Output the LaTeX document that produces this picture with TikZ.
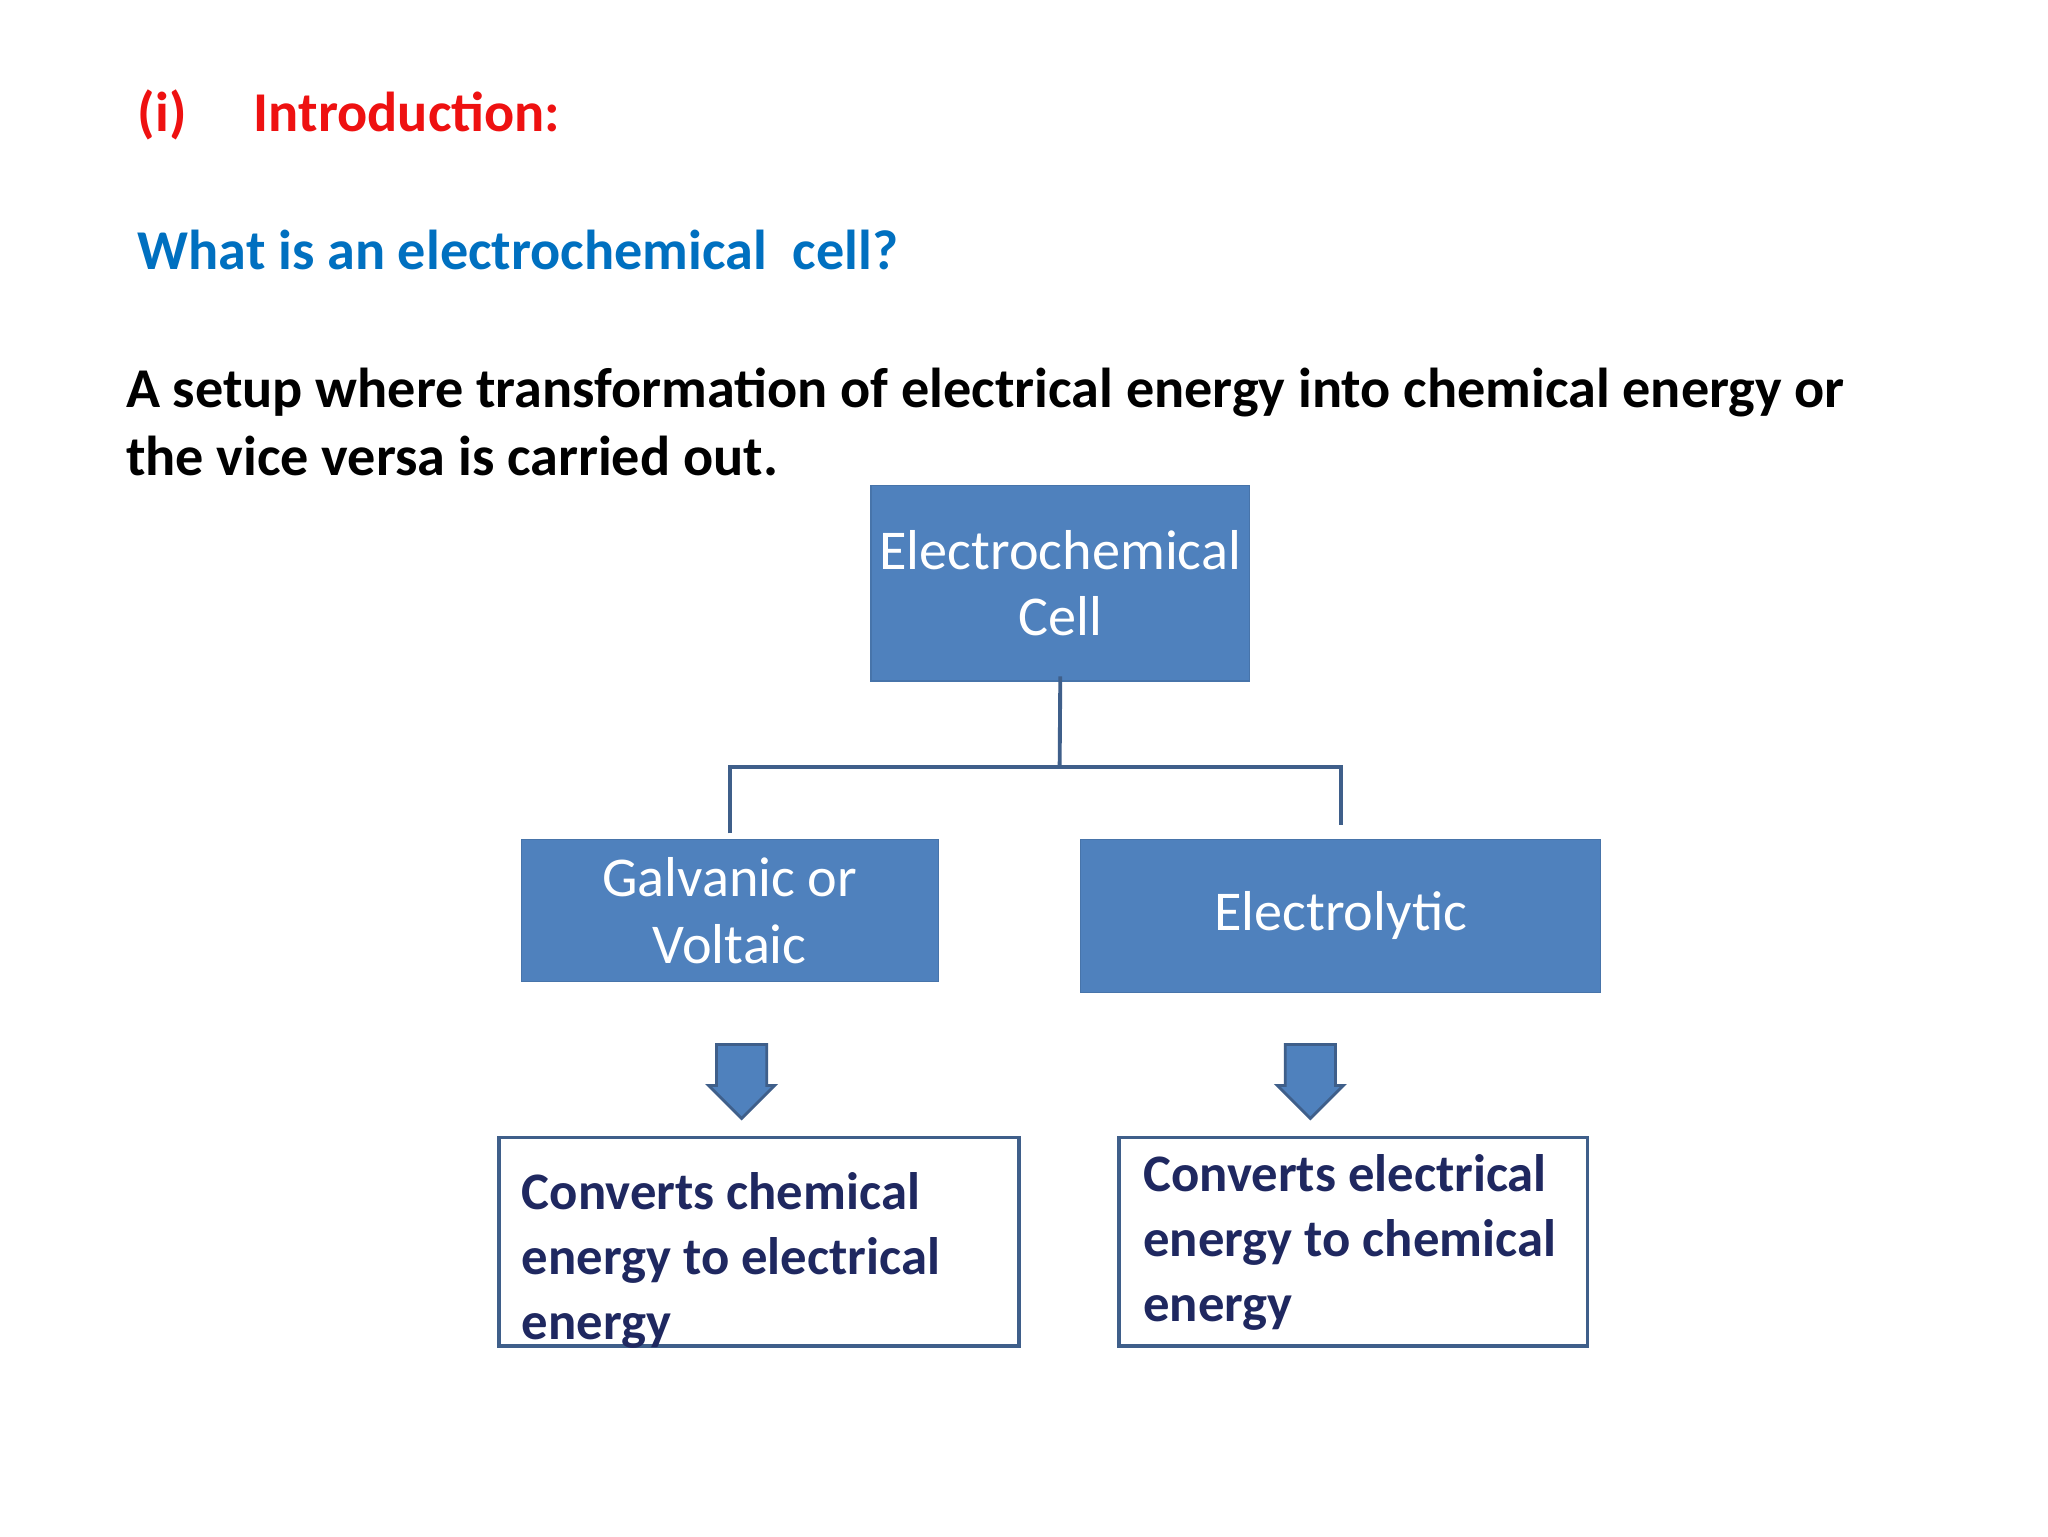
\documentclass[tikz,border=0pt]{standalone}
\usepackage{fontspec}
\setmainfont{Carlito}
\usetikzlibrary{positioning,shapes.arrows}
\definecolor{titlered}{HTML}{EE1111}
\definecolor{qblue}{HTML}{0070C0}
\definecolor{boxblue}{HTML}{4F81BD}
\definecolor{linkblue}{HTML}{3F5F8A}
\definecolor{navy}{HTML}{1F2860}
\tikzset{
  cellbox/.style={fill=boxblue, draw=boxblue!90!black, text=white, align=center,
    font=\fontsize{16}{19}\selectfont, inner sep=0pt},
  notebox/.style={draw=linkblue, line width=1.1pt, fill=white, text=navy,
    align=left, font=\fontsize{15}{18.5}\selectfont\bfseries, inner sep=0pt},
  link/.style={draw=linkblue, line width=1.1pt},
  downarrow/.style={single arrow, shape border rotate=270, fill=boxblue,
    draw=linkblue, line width=0.8pt, minimum height=0.74cm, minimum width=0.66cm,
    single arrow head extend=0.01cm, inner sep=0.5pt}
}
\begin{document}
\begin{tikzpicture}[x=0.0132cm,y=-0.0132cm]
\useasboundingbox[fill=white] (0,0) rectangle (1552,1164);

% headings
\node[anchor=base west, text=titlered, font=\fontsize{16}{19}\selectfont\bfseries] (num) at (95,100) {(i)};
\node[anchor=base west, text=titlered, font=\fontsize{16}{19}\selectfont\bfseries] (intro) at (183,100) {Introduction:};
\node[anchor=base west, text=qblue, font=\fontsize{16}{19}\selectfont\bfseries] (quest) at (95,204) {What is an electrochemical\ \ cell?};
\node[anchor=north west, align=left, font=\fontsize{16}{19.6}\selectfont\bfseries, inner sep=0pt] (defn) at (95,278)
  {A setup where transformation of electrical energy into chemical energy or\\the vice versa is carried out.};

% boxes
\node[cellbox, minimum width=287*0.0132cm, minimum height=148*0.0132cm] (cell) at (803.5,442) {Electrochemical\\Cell};
\node[cellbox, minimum width=316*0.0132cm, minimum height=108*0.0132cm] (galv) at (553,690) {Galvanic or\\Voltaic};
\node[cellbox, minimum width=394*0.0132cm, minimum height=116*0.0132cm] (elyt) at (1016,694) {Electrolytic};

% tree links
\coordinate (split) at (803,581);
\draw[link] (cell.south) ++(0,-4) -- (split);
\draw[link] (galv.north -| galv) ++(0,-4) |- (split) -| ([yshift=4]elyt.north);

% down arrows
\node[downarrow] (ar1) at (562,810) {};
\node[downarrow] (ar2) at (993,810) {};

% notes
\node[notebox, minimum width=394*0.0132cm, minimum height=158*0.0132cm] (note1) at (575,941) {};
\node[anchor=north west, text=navy, align=left, font=\fontsize{15}{18.5}\selectfont\bfseries, inner sep=0pt] (t1) at (395,888)
  {Converts chemical\\energy to electrical\\energy};
\node[notebox, minimum width=355*0.0132cm, minimum height=158*0.0132cm] (note2) at (1025.5,941) {};
\node[anchor=north west, text=navy, align=left, font=\fontsize{15}{18.5}\selectfont\bfseries, inner sep=0pt] (t2) at (866,874)
  {Converts electrical\\energy to chemical\\energy};
\end{tikzpicture}
\end{document}
